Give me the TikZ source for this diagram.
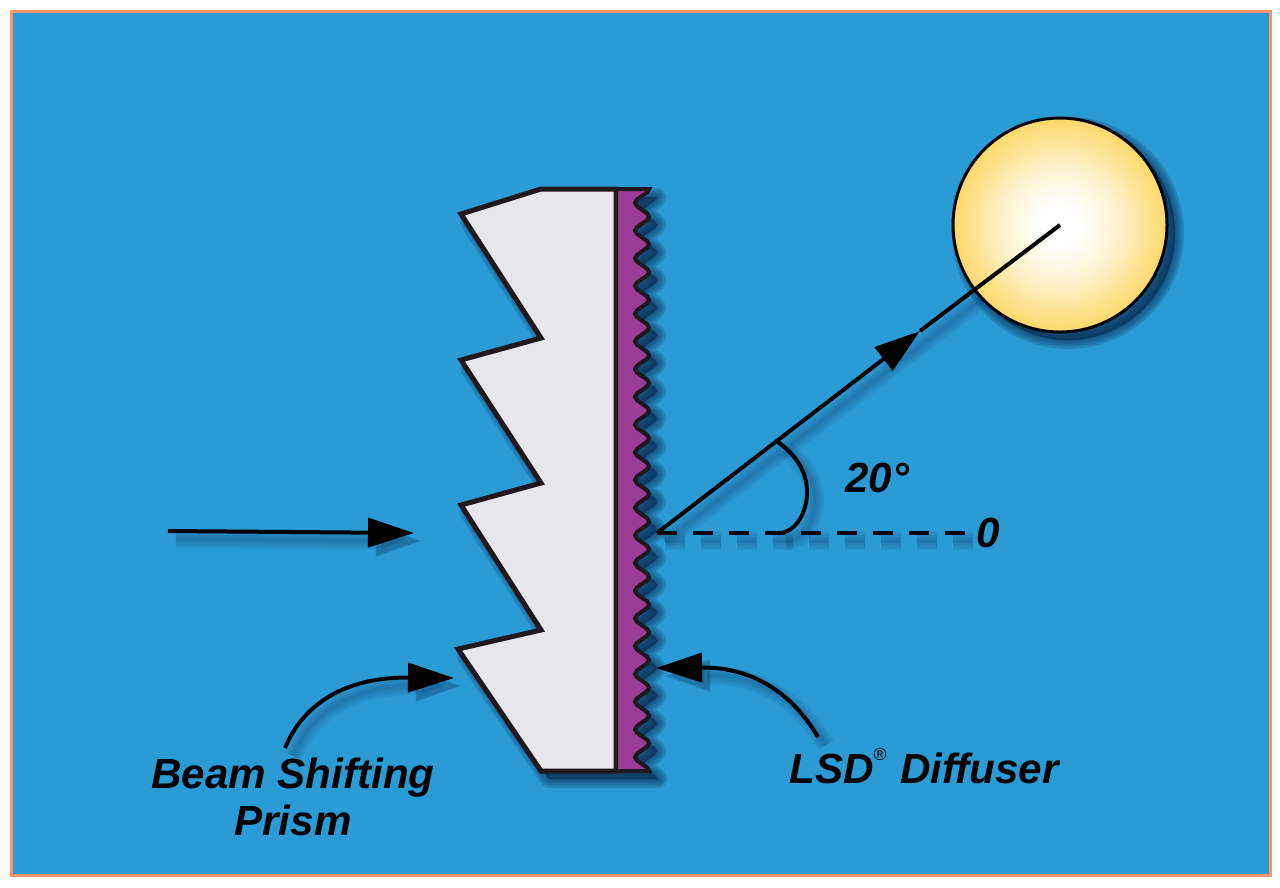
\documentclass[tikz,border=0pt]{standalone}
\usepackage{fontspec}
\setmainfont{Liberation Sans}
\usetikzlibrary{arrows.meta}
\definecolor{bluesky}{RGB}{43,155,213}
\definecolor{peach}{RGB}{245,150,110}
\definecolor{inkdark}{RGB}{32,24,28}
\definecolor{greyprism}{RGB}{230,230,235}
\definecolor{purplelsd}{RGB}{155,60,150}
\definecolor{lampyellow}{RGB}{253,216,105}
\definecolor{shadeblue}{RGB}{8,40,80}
\pgfdeclareradialshading{lampglow}{\pgfpoint{0bp}{0bp}}{color(0bp)=(white); color(5bp)=(white); color(14bp)=(lampyellow!35!white); color(20bp)=(lampyellow!72!white); color(25bp)=(lampyellow); color(50bp)=(lampyellow)}
\tikzstyle{ot} = [draw=inkdark, line width=5*0.02cm, line join=miter]
\tikzstyle{ray} = [draw=black, line width=4*0.02cm]
\tikzstyle{head} = [-{Triangle[length=0.92cm,width=0.58cm]}]
\tikzstyle{faint} = [fill=none, opacity=.08]
\tikzstyle{deftitle} = [font=\fontsize{24}{27}\selectfont\bfseries\itshape, text=black, inner sep=0pt, align=center]
% soft shadow: the same path, shifted and widened a few times
\newcommand{\softshade}[2][]{%
	\begin{scope}[transform canvas={shift={(0.16cm,-0.16cm)}}]
	\foreach \w in {18,13,8,3}{%
		\path[draw=shadeblue, fill=shadeblue, opacity=.2, line join=round, line width=\w*0.02cm, #1] #2;
	}
	\end{scope}
}

\begin{document}
\begin{tikzpicture}[x=0.02cm,y=-0.02cm]
	
	\useasboundingbox (0,0) rectangle (1280,887);
	\fill[white] (0,0) rectangle (1280,887);
	\filldraw[fill=bluesky, draw=peach, line width=3*0.02cm] (11,11) rectangle (1270,875);
	
	% points the connectors use
	\coordinate (src) at (168,531);
	\coordinate (inlet) at (414,533);
	\coordinate (exit) at (657,533);
	\coordinate (mid) at (920,331);
	\coordinate (lamp) at (1060,225);
	\coordinate (zeroend) at (968,533);
	\coordinate (prismtail) at (285,748);
	\coordinate (prismtip) at (454,678);
	\coordinate (lsdtail) at (818,737);
	\coordinate (lsdtip) at (656,668);
	
	% shadows first
	\softshade{(541,189) -- (461,214) -- (541,338) -- (461,360) -- (541,483) -- (461,505) -- (541,630) -- (458,649) -- (541,771) -- (650,771) -- plot[domain=771:189,samples=169,variable=\t] ({642+7*cos(12.992*(\t-189))},\t) -- cycle}
	\softshade{(lamp) circle (107)}
	\softshade[faint, head]{(src) -- (inlet)}
	\softshade[faint]{(exit) -- (lamp)}
	\softshade[faint, dash pattern=on 20*0.02cm off 16*0.02cm]{(exit) -- (zeroend)}
	\softshade[faint]{(778,442) .. controls (800,458) and (807,475) .. (807,493) .. controls (807,510) and (797,533) .. (778,533)}
	\softshade[faint, head]{(prismtail) .. controls (305,700) and (350,677) .. (prismtip)}
	\softshade[faint, head]{(lsdtail) .. controls (790,690) and (750,667) .. (lsdtip)}
	
	% prism and diffuser
	\filldraw[ot, fill=greyprism] (541,189) -- (461,214) -- (541,338) -- (461,360) -- (541,483) -- (461,505) -- (541,630) -- (458,649) -- (541,771) -- (616,771) -- (616,189) -- cycle;
	\filldraw[ot, line width=4*0.02cm, fill=purplelsd] (616,189) -- (649,189) -- plot[domain=189:771,samples=169,variable=\t] ({642+7*cos(12.992*(\t-189))},\t) -- (616,771) -- cycle;
	
	% lamp
	\shade[shading=lampglow] (lamp) circle (107);
	\draw[draw=black, line width=3*0.02cm] (lamp) circle (107);
	
	% rays
	\draw[ray, head] (src) -- (inlet);
	\draw[ray, head] (exit) -- (mid);
	\draw[ray] (mid) -- (lamp);
	\draw[ray, dash pattern=on 20*0.02cm off 16*0.02cm] (exit) -- (zeroend);
	\draw[ray] (778,442) .. controls (800,458) and (807,475) .. (807,493) .. controls (807,510) and (797,533) .. (778,533);
	\draw[ray, head] (prismtail) .. controls (305,700) and (350,677) .. (prismtip);
	\draw[ray, head] (lsdtail) .. controls (790,690) and (750,667) .. (lsdtip);
	
	% labels
	\node[deftitle] (prismlabel) at (293,797) {Beam Shifting\\Prism};
	\node[deftitle, anchor=base west] (lsdlabel) at (789,783) {LSD\raisebox{13pt}{\fontsize{10}{10}\selectfont\mdseries\upshape ®}\kern1pt\ Diffuser};
	\node[deftitle, anchor=base] (anglelabel) at (877,492) {20°};
	\node[deftitle, anchor=base] (zerolabel) at (988,547) {0};
\end{tikzpicture}
\end{document}
